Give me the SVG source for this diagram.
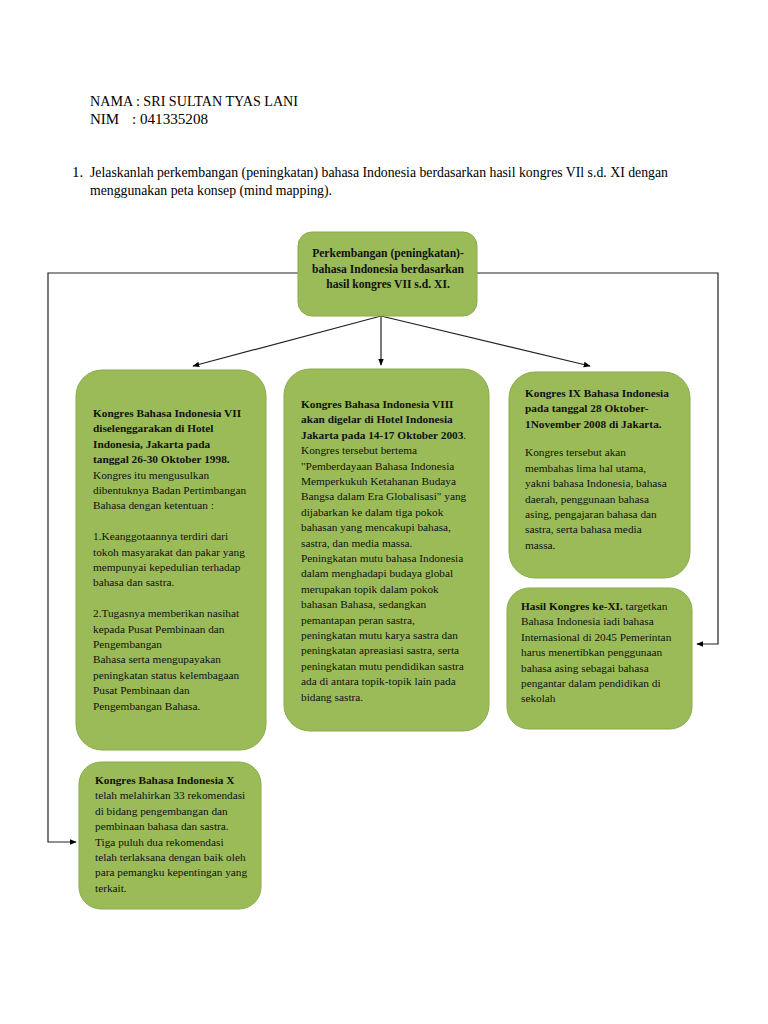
<svg xmlns="http://www.w3.org/2000/svg" width="768" height="1024" viewBox="0 0 768 1024">
<defs>
<style>
.hd{font-family:"Liberation Serif","Times New Roman",serif;font-size:15px;fill:#000}
.t{font-family:"Liberation Serif","Times New Roman",serif;font-size:11.3px;fill:#111}
.r{font-size:11.6px}
.b{font-weight:bold}
.box{fill:#9bbb59;stroke:#8aab4c;stroke-width:1}
.ln{fill:none;stroke:#222;stroke-width:1.2}
</style>
<marker id="ah" viewBox="0 0 10 10" refX="9" refY="5" markerWidth="7" markerHeight="7" orient="auto" markerUnits="userSpaceOnUse">
<path d="M0,1 L10,5 L0,9 z" fill="#000"/>
</marker>
</defs>
<rect width="768" height="1024" fill="#fff"/>
<g id="header">
<text class="hd" x="90" y="106" textLength="208" lengthAdjust="spacingAndGlyphs">NAMA : SRI SULTAN TYAS LANI</text>
<text class="hd" x="90" y="124">NIM</text>
<text class="hd" x="132" y="124" textLength="76" lengthAdjust="spacingAndGlyphs">: 041335208</text>
<text class="hd" x="72" y="177">1.</text>
<text class="hd" x="90" y="177" textLength="578" lengthAdjust="spacingAndGlyphs">Jelaskanlah perkembangan (peningkatan) bahasa Indonesia berdasarkan hasil kongres VIl s.d. XI dengan</text>
<text class="hd" x="90" y="195" textLength="242" lengthAdjust="spacingAndGlyphs">menggunakan peta konsep (mind mapping).</text>
</g>
<g id="connectors">
<line class="ln" x1="381" y1="316" x2="193" y2="366" marker-end="url(#ah)"/>
<line class="ln" x1="381" y1="316" x2="381" y2="365" marker-end="url(#ah)"/>
<line class="ln" x1="381" y1="316" x2="590" y2="366" marker-end="url(#ah)"/>
<polyline class="ln" points="298,273 48,273 48,842 76,842" marker-end="url(#ah)"/>
<polyline class="ln" points="477,273 718,273 718,644 697,644" marker-end="url(#ah)"/>
</g>
<g id="root">
<rect class="box" x="298" y="232" width="179" height="84" rx="14"/>
<text class="t b r" text-anchor="middle" x="388" y="257">Perkembangan (peningkatan)-</text>
<text class="t b r" text-anchor="middle" x="388" y="273">bahasa Indonesia berdasarkan</text>
<text class="t b r" text-anchor="middle" x="388" y="288">hasil kongres VII s.d. XI.</text>
</g>
<g id="kongres7">
<rect class="box" x="76" y="370" width="190" height="380" rx="26"/>
<text class="t" x="93" y="417">
<tspan class="b" x="93">Kongres Bahasa Indonesia VII</tspan>
<tspan class="b" x="93" dy="15.4">diselenggarakan di Hotel</tspan>
<tspan class="b" x="93" dy="15.4">Indonesia, Jakarta pada</tspan>
<tspan class="b" x="93" dy="15.4">tanggal 26-30 Oktober 1998.</tspan>
<tspan x="93" dy="15.4">Kongres itu mengusulkan</tspan>
<tspan x="93" dy="15.4">dibentuknya Badan Pertimbangan</tspan>
<tspan x="93" dy="15.4">Bahasa dengan ketentuan :</tspan>
<tspan x="93" dy="30.8">1.Keanggotaannya terdiri dari</tspan>
<tspan x="93" dy="15.4">tokoh masyarakat dan pakar yang</tspan>
<tspan x="93" dy="15.4">mempunyai kepedulian terhadap</tspan>
<tspan x="93" dy="15.4">bahasa dan sastra.</tspan>
<tspan x="93" dy="30.8">2.Tugasnya memberikan nasihat</tspan>
<tspan x="93" dy="15.4">kepada Pusat Pembinaan dan</tspan>
<tspan x="93" dy="15.4">Pengembangan</tspan>
<tspan x="93" dy="15.4">Bahasa serta mengupayakan</tspan>
<tspan x="93" dy="15.4">peningkatan status kelembagaan</tspan>
<tspan x="93" dy="15.4">Pusat Pembinaan dan</tspan>
<tspan x="93" dy="15.4">Pengembangan Bahasa.</tspan>
</text>
</g>
<g id="kongres8">
<rect class="box" x="284" y="369" width="205" height="362" rx="26"/>
<text class="t" x="301" y="408">
<tspan class="b" x="301">Kongres Bahasa Indonesia VIII</tspan>
<tspan class="b" x="301" dy="15.4">akan digelar di Hotel Indonesia</tspan>
<tspan x="301" dy="15.4"><tspan class="b">Jakarta pada 14-17 Oktober 2003</tspan>.</tspan>
<tspan x="301" dy="15.4">Kongres tersebut bertema</tspan>
<tspan x="301" dy="15.4">"Pemberdayaan Bahasa Indonesia</tspan>
<tspan x="301" dy="15.4">Memperkukuh Ketahanan Budaya</tspan>
<tspan x="301" dy="15.4">Bangsa dalam Era Globalisasi" yang</tspan>
<tspan x="301" dy="15.4">dijabarkan ke dalam tiga pokok</tspan>
<tspan x="301" dy="15.4">bahasan yang mencakupi bahasa,</tspan>
<tspan x="301" dy="15.4">sastra, dan media massa.</tspan>
<tspan x="301" dy="15.4">Peningkatan mutu bahasa Indonesia</tspan>
<tspan x="301" dy="15.4">dalam menghadapi budaya global</tspan>
<tspan x="301" dy="15.4">merupakan topik dalam pokok</tspan>
<tspan x="301" dy="15.4">bahasan Bahasa, sedangkan</tspan>
<tspan x="301" dy="15.4">pemantapan peran sastra,</tspan>
<tspan x="301" dy="15.4">peningkatan mutu karya sastra dan</tspan>
<tspan x="301" dy="15.4">peningkatan apreasiasi sastra, serta</tspan>
<tspan x="301" dy="15.4">peningkatan mutu pendidikan sastra</tspan>
<tspan x="301" dy="15.4">ada di antara topik-topik lain pada</tspan>
<tspan x="301" dy="15.4">bidang sastra.</tspan>
</text>
</g>
<g id="kongres9">
<rect class="box" x="509" y="372" width="181" height="206" rx="26"/>
<text class="t" x="525" y="397">
<tspan class="b" x="525">Kongres IX Bahasa Indonesia</tspan>
<tspan class="b" x="525" dy="15.4">pada tanggal 28 Oktober-</tspan>
<tspan class="b" x="525" dy="15.4">1November 2008 di Jakarta.</tspan>
<tspan x="525" dy="28.5">Kongres tersebut akan</tspan>
<tspan x="525" dy="15.4">membahas lima hal utama,</tspan>
<tspan x="525" dy="15.4">yakni bahasa Indonesia, bahasa</tspan>
<tspan x="525" dy="15.4">daerah, penggunaan bahasa</tspan>
<tspan x="525" dy="15.4">asing, pengajaran bahasa dan</tspan>
<tspan x="525" dy="15.4">sastra, serta bahasa media</tspan>
<tspan x="525" dy="15.4">massa.</tspan>
</text>
</g>
<g id="kongres11">
<rect class="box" x="507" y="588" width="185" height="141" rx="22"/>
<text class="t" x="521" y="610">
<tspan x="521"><tspan class="b">Hasil Kongres ke-XI.</tspan> targetkan</tspan>
<tspan x="521" dy="15.4">Bahasa Indonesia iadi bahasa</tspan>
<tspan x="521" dy="15.4">Internasional di 2045 Pemerintan</tspan>
<tspan x="521" dy="15.4">harus menertibkan penggunaan</tspan>
<tspan x="521" dy="15.4">bahasa asing sebagai bahasa</tspan>
<tspan x="521" dy="15.4">pengantar dalam pendidikan di</tspan>
<tspan x="521" dy="15.4">sekolah</tspan>
</text>
</g>
<g id="kongres10">
<rect class="box" x="79" y="762" width="182" height="147" rx="22"/>
<text class="t" x="95" y="784">
<tspan class="b" x="95">Kongres Bahasa Indonesia X</tspan>
<tspan x="95" dy="15.4">telah melahirkan 33 rekomendasi</tspan>
<tspan x="95" dy="15.4">di bidang pengembangan dan</tspan>
<tspan x="95" dy="15.4">pembinaan bahasa dan sastra.</tspan>
<tspan x="95" dy="15.4">Tiga puluh dua rekomendasi</tspan>
<tspan x="95" dy="15.4">telah terlaksana dengan baik oleh</tspan>
<tspan x="95" dy="15.4">para pemangku kepentingan yang</tspan>
<tspan x="95" dy="15.4">terkait.</tspan>
</text>
</g>
</svg>
